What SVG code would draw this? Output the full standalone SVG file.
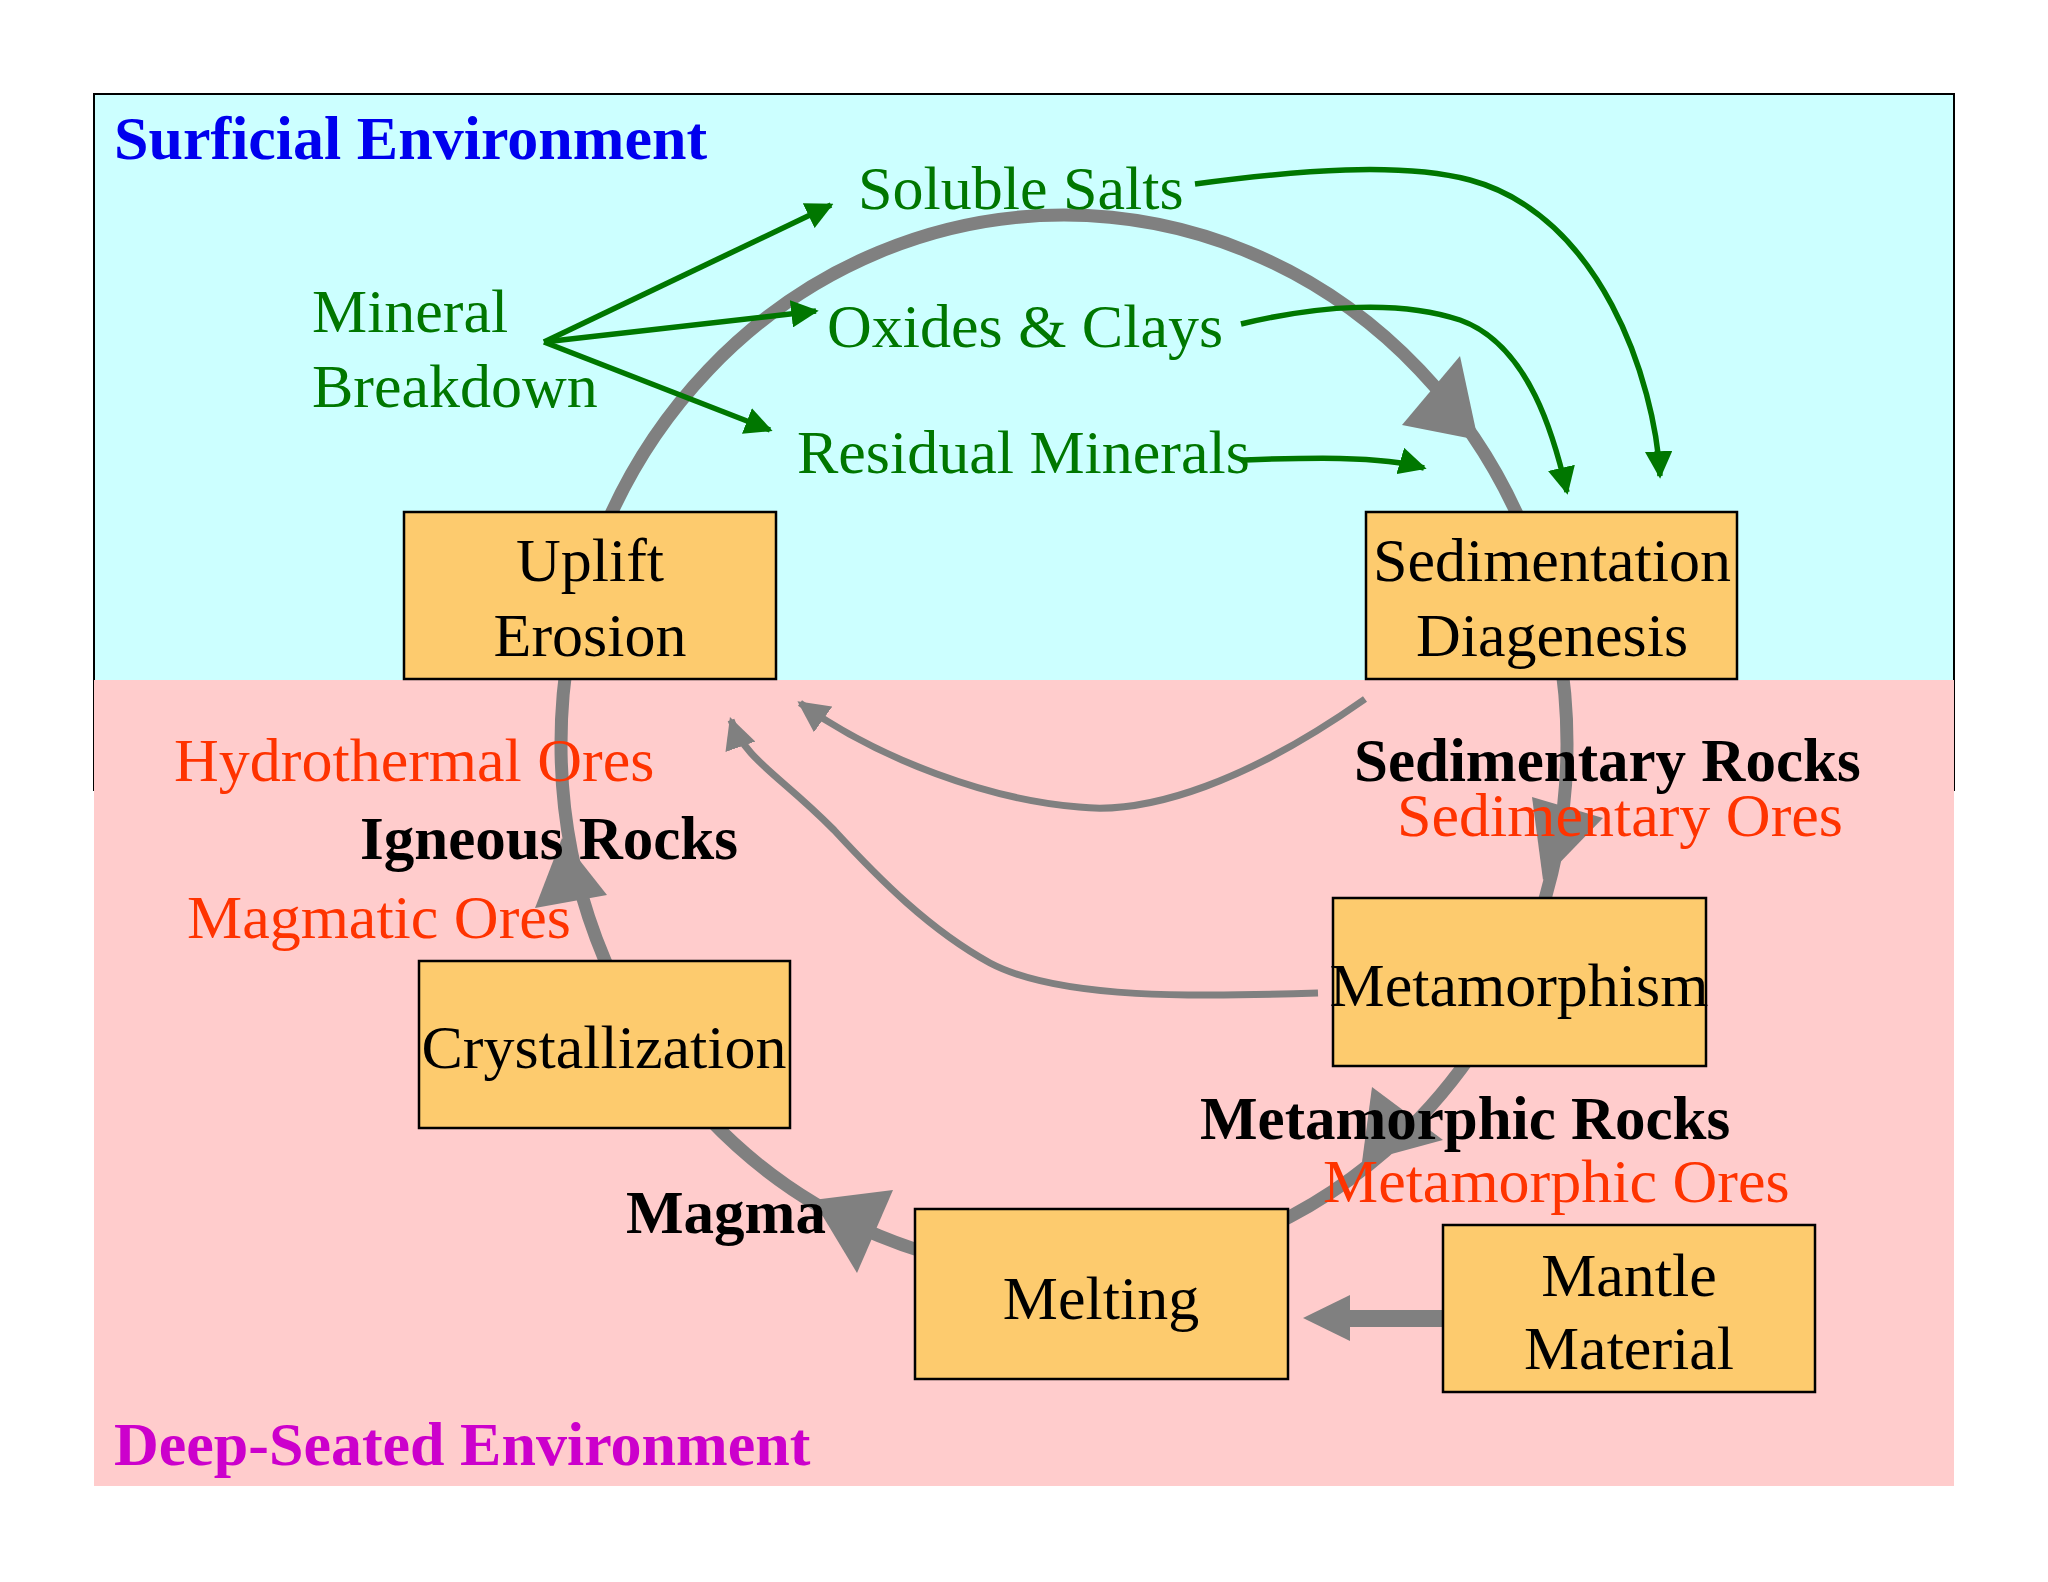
<svg xmlns="http://www.w3.org/2000/svg" width="2048" height="1582" viewBox="0 0 2048 1582">
<defs>
<style>
.box{fill:#FDCB6E;stroke:#000;stroke-width:2.5}
.bt{font-family:"Liberation Serif",serif;font-size:62px;fill:#000;text-anchor:middle}
.g{font-family:"Liberation Serif",serif;font-size:62px;fill:#007700}
.r{font-family:"Liberation Serif",serif;font-size:62px;fill:#FF3300}
.b{font-family:"Liberation Serif",serif;font-size:61px;font-weight:bold;fill:#000}
.gl{fill:none;stroke:#007700;stroke-width:5.5}
.th{fill:none;stroke:#808080;stroke-width:7}
.ah{fill:#808080}
</style>
<marker id="ga" viewBox="0 0 10 10" refX="9" refY="5" markerWidth="5" markerHeight="5" orient="auto" markerUnits="strokeWidth"><path d="M0,0 L10,5 L0,10 Z" fill="#007700"/></marker>
<marker id="gr" viewBox="0 0 10 10" refX="9" refY="5" markerWidth="4.5" markerHeight="4.5" orient="auto" markerUnits="strokeWidth"><path d="M0,0 L10,5 L0,10 Z" fill="#808080"/></marker>
</defs>
<rect width="2048" height="1582" fill="#fff"/>
<rect x="94" y="94" width="1860" height="696" fill="#CCFFFF" stroke="#000" stroke-width="2"/>
<rect x="94" y="680" width="1860" height="806" fill="#FFCCCC"/>
<text x="114" y="159" font-family="Liberation Serif,serif" font-size="62" font-weight="bold" fill="#0000EE">Surficial Environment</text>
<text x="114" y="1465" font-family="Liberation Serif,serif" font-size="62" font-weight="bold" fill="#CC00CC">Deep-Seated Environment</text>
<g id="connectors">
<ellipse cx="1064" cy="744" rx="503" ry="529" fill="none" stroke="#808080" stroke-width="13"/>
<polygon class="ah" points="1460,356 1402,425 1478,440"/>
<polygon class="ah" points="1532,797 1603,818 1543,880"/>
<polygon class="ah" points="1372,1087 1443,1140 1362,1162"/>
<polygon class="ah" points="893,1190 857,1273 813,1200"/>
<polygon class="ah" points="535,908 607,895 562,838"/>
<path class="th" d="M1365,699 C1250,780 1150,815 1079,807 C990,800 880,760 800,703" marker-end="url(#gr)"/>
<path class="th" d="M1318,993 C1200,997 1060,1000 990,963 C930,930 880,880 834,830 C780,775 745,760 731,720" marker-end="url(#gr)"/>
<rect x="1350" y="1310" width="95" height="17" fill="#808080"/>
<polygon class="ah" points="1350,1295 1350,1341 1303,1318"/>
<path class="gl" d="M544,342 L831,205" marker-end="url(#ga)"/>
<path class="gl" d="M544,342 L816,311" marker-end="url(#ga)"/>
<path class="gl" d="M544,342 L770,430" marker-end="url(#ga)"/>
<path class="gl" d="M1195,184 C1300,170 1400,162 1470,180 C1600,215 1655,380 1660,476" marker-end="url(#ga)"/>
<path class="gl" d="M1241,324 C1320,305 1400,300 1460,320 C1530,345 1555,440 1567,492" marker-end="url(#ga)"/>
<path class="gl" d="M1241,460 C1300,458 1380,455 1424,468" marker-end="url(#ga)"/>
</g>
<g id="uplift"><rect class="box" x="404" y="512" width="372" height="167"/><text class="bt" x="590" y="581">Uplift</text><text class="bt" x="590" y="656">Erosion</text></g>
<g id="sedimentation"><rect class="box" x="1366" y="512" width="371" height="167"/><text class="bt" x="1552" y="581">Sedimentation</text><text class="bt" x="1552" y="656">Diagenesis</text></g>
<g id="metamorphism"><rect class="box" x="1333" y="898" width="373" height="168"/><text class="bt" x="1519" y="1006">Metamorphism</text></g>
<g id="crystallization"><rect class="box" x="419" y="961" width="371" height="167"/><text class="bt" x="604" y="1068">Crystallization</text></g>
<g id="melting"><rect class="box" x="915" y="1209" width="373" height="170"/><text class="bt" x="1101" y="1319">Melting</text></g>
<g id="mantle"><rect class="box" x="1443" y="1225" width="372" height="167"/><text class="bt" x="1629" y="1296">Mantle</text><text class="bt" x="1629" y="1369">Material</text></g>
<g id="labels">
<text class="g" x="312" y="332">Mineral</text>
<text class="g" x="312" y="407">Breakdown</text>
<text class="g" x="858" y="209">Soluble Salts</text>
<text class="g" x="827" y="347">Oxides &amp; Clays</text>
<text class="g" x="797" y="473">Residual Minerals</text>
<text class="r" x="174" y="781">Hydrothermal Ores</text>
<text class="b" x="360" y="859">Igneous Rocks</text>
<text class="r" x="187" y="938">Magmatic Ores</text>
<text class="b" x="1354" y="781">Sedimentary Rocks</text>
<text class="r" x="1397" y="836">Sedimentary Ores</text>
<text class="b" x="1200" y="1139">Metamorphic Rocks</text>
<text class="r" x="1323" y="1202">Metamorphic Ores</text>
<text class="b" x="626" y="1233">Magma</text>
</g>
</svg>
